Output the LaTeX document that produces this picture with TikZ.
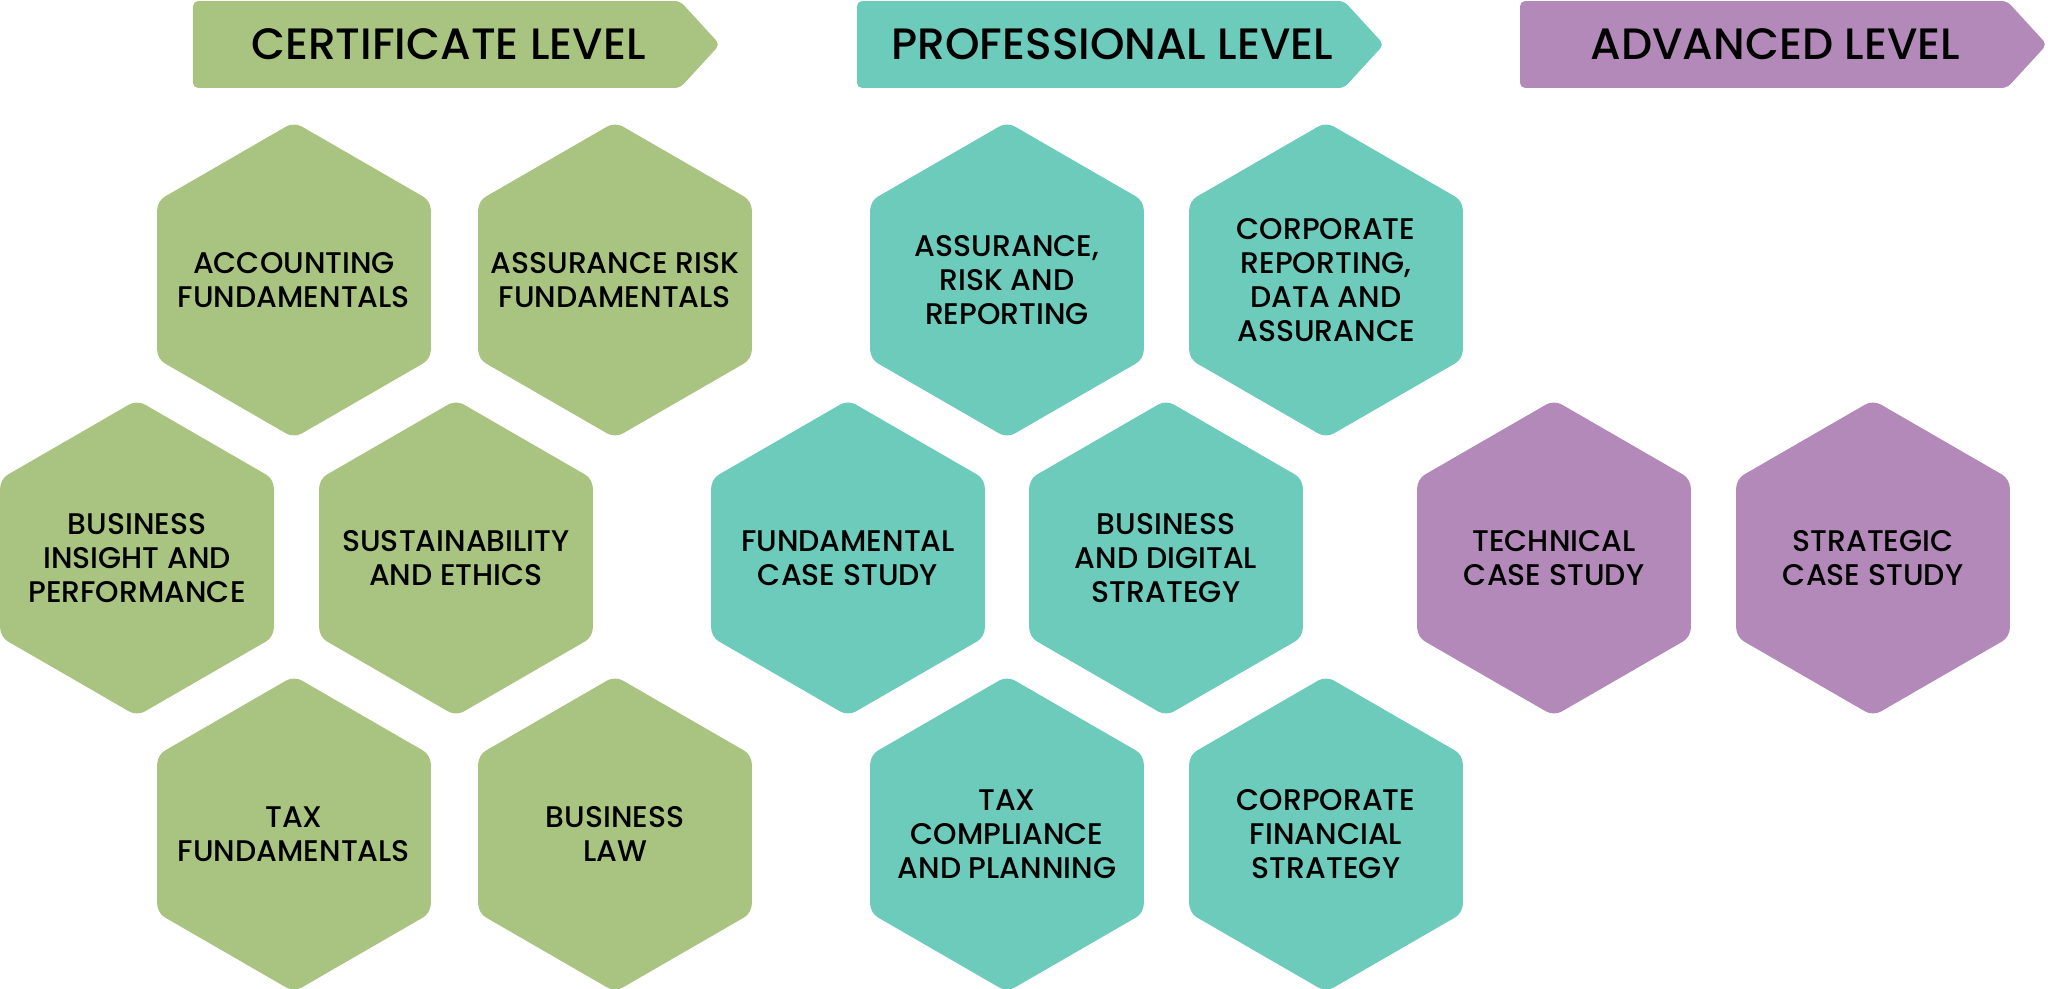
\documentclass[tikz,border=0pt]{standalone}
\usepackage{fontspec}
\setmainfont{Poppins}[UprightFont=* Medium]
\usetikzlibrary{shapes.geometric,shapes.symbols,positioning}
\definecolor{certgreen}{RGB}{169,196,128}
\definecolor{profteal}{RGB}{109,203,188}
\definecolor{advpurple}{RGB}{179,137,185}
\tikzset{
  hexbase/.style = {regular polygon, regular polygon sides=6, shape border rotate=30,
  minimum size=6.32cm, inner sep=0pt, rounded corners=5pt},
  certhex/.style = {hexbase, fill=certgreen},
  profhex/.style = {hexbase, fill=profteal},
  advhex/.style  = {hexbase, fill=advpurple},
  hextext/.style = {align=center, inner sep=0pt, font=\fontsize{17}{19.5}\selectfont},
  banner/.style  = {signal, signal to=east, signal pointer angle=95, inner sep=0pt,
  minimum width=10.54cm, minimum height=1.74cm, rounded corners=3pt,
  execute at begin node=\hspace*{0.48cm}, font=\fontsize{25}{30}\selectfont}
}

\begin{document}
\begin{tikzpicture}[x=0.02cm,y=-0.02cm]
\useasboundingbox (0,0) rectangle (2048,989);
% level banners
\node[banner, fill=certgreen] (cert) at (436.5,44.5) {CERTIFICATE LEVEL};
\node[banner, fill=profteal] (prof) at (1100.5,44.5) {PROFESSIONAL LEVEL};
\node[banner, fill=advpurple] (adv) at (1763.5,44.5) {ADVANCED LEVEL};

% certificate level
\node[certhex] (acc) at (294,280) {};
\node[certhex] (arf) at (615,280) {};
\node[certhex] (bip) at (137,558) {};
\node[certhex] (sae) at (456,558) {};
\node[certhex] (taxf) at (294,834) {};
\node[certhex] (law) at (615,834) {};
\node[hextext] (acc text) at (acc) {ACCOUNTING\\FUNDAMENTALS};
\node[hextext] (arf text) at (arf) {ASSURANCE RISK\\FUNDAMENTALS};
\node[hextext] (bip text) at (bip) {BUSINESS\\INSIGHT AND\\PERFORMANCE};
\node[hextext] (sae text) at (sae) {SUSTAINABILITY\\AND ETHICS};
\node[hextext] (taxf text) at (taxf) {TAX\\FUNDAMENTALS};
\node[hextext] (law text) at (law) {BUSINESS\\LAW};

% professional level
\node[profhex] (arr) at (1007,280) {};
\node[profhex] (crda) at (1326,280) {};
\node[profhex] (fcs) at (848,558) {};
\node[profhex] (bds) at (1166,558) {};
\node[profhex] (tcp) at (1007,834) {};
\node[profhex] (cfs) at (1326,834) {};
\node[hextext] (arr text) at (arr) {ASSURANCE,\\RISK AND\\REPORTING};
\node[hextext] (crda text) at (crda) {CORPORATE\\REPORTING,\\DATA AND\\ASSURANCE};
\node[hextext] (fcs text) at (fcs) {FUNDAMENTAL\\CASE STUDY};
\node[hextext] (bds text) at (bds) {BUSINESS\\AND DIGITAL\\STRATEGY};
\node[hextext] (tcp text) at (tcp) {TAX\\COMPLIANCE\\AND PLANNING};
\node[hextext] (cfs text) at (cfs) {CORPORATE\\FINANCIAL\\STRATEGY};

% advanced level
\node[advhex] (tcs) at (1554,558) {};
\node[advhex] (scs) at (1873,558) {};
\node[hextext] (tcs text) at (tcs) {TECHNICAL\\CASE STUDY};
\node[hextext] (scs text) at (scs) {STRATEGIC\\CASE STUDY};
\end{tikzpicture}
\end{document}
